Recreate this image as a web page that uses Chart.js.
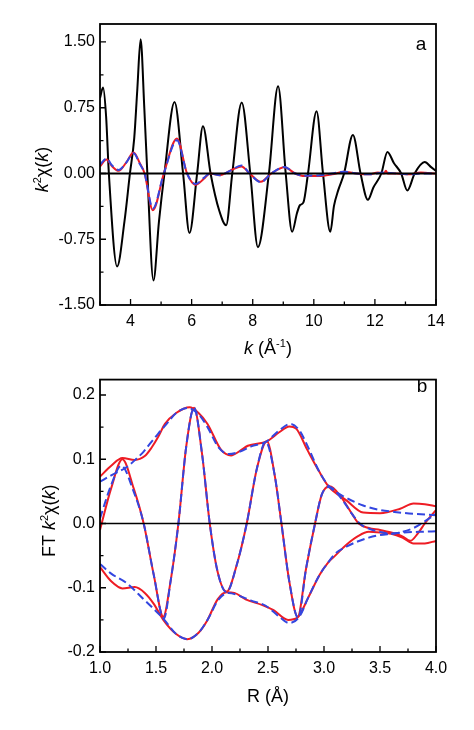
<!DOCTYPE html>
<html>
<head>
<meta charset="utf-8">
<script src="https://cdn.jsdelivr.net/npm/chart.js@4"></script>
<style>
  body { margin: 0; background: #fff; }
  canvas { position: absolute; left: 0; }
</style>
</head>
<body>
<canvas id="chartA" width="474" height="365" style="top:0;width:474px;height:365px"></canvas>
<canvas id="chartB" width="474" height="365" style="top:365px;width:474px;height:365px"></canvas>
<script>
// panel a: k^2 chi(k)
const kBlack = [3.0, 3.1, 3.2, 3.29, 3.56, 3.8, 3.98, 4.12, 4.22, 4.33, 4.45, 4.55, 4.75, 4.93, 5.11, 5.44, 5.72, 5.93, 6.18, 6.37, 6.62, 6.9, 7.13, 7.33, 7.64, 7.92, 8.17, 8.53, 8.83, 9.08, 9.29, 9.45, 9.55, 9.66, 9.81, 10.09, 10.3, 10.54, 10.66, 10.8, 10.99, 11.28, 11.53, 11.77, 11.95, 12.21, 12.41, 12.62, 12.86, 13.06, 13.3, 13.63, 13.85, 14.0];
const chiBlack = [0.86, 0.98, 0.65, 0.0, -1.06, -0.55, 0.0, 0.40, 0.95, 1.53, 0.75, 0.0, -1.22, -0.55, 0.0, 0.815, 0.0, -0.68, 0.0, 0.54, 0.0, -0.42, -0.59, 0.0, 0.81, 0.0, -0.84, 0.0, 0.995, 0.0, -0.665, -0.45, -0.36, -0.33, 0.0, 0.71, 0.0, -0.665, -0.37, -0.19, 0.0, 0.44, 0.0, -0.30, -0.16, 0.0, 0.245, 0.12, 0.0, -0.195, 0.0, 0.13, 0.07, 0.03];

const kRed = [3.0, 3.21, 3.4, 3.61, 3.85, 4.1, 4.3, 4.46, 4.73, 5.09, 5.52, 5.85, 6.13, 6.4, 6.6, 6.93, 7.25, 7.63, 7.9, 8.26, 8.61, 9.04, 9.39, 9.7, 10.2, 10.6, 11.0, 11.4, 11.8, 12.1, 12.3, 12.36, 12.42, 12.7, 13.1, 13.5, 14.0];
const chiRed = [0.08, 0.16, 0.08, 0.03, 0.12, 0.24, 0.12, 0.0, -0.42, 0.0, 0.40, 0.0, -0.13, -0.06, 0.0, -0.02, 0.03, 0.08, 0.0, -0.095, 0.0, 0.07, 0.0, -0.03, -0.03, -0.01, 0.02, 0.0, -0.01, 0.01, 0.0, 0.03, 0.0, 0.0, -0.01, 0.01, 0.0];

const kBlue = [3.0, 3.21, 3.4, 3.61, 3.85, 4.1, 4.3, 4.46, 4.73, 5.09, 5.52, 5.85, 6.13, 6.4, 6.6, 6.93, 7.25, 7.63, 7.9, 8.26, 8.61, 9.04, 9.39, 9.7, 10.2, 10.6, 11.0, 11.4, 11.8, 12.3, 12.7, 13.1, 13.5, 14.0];
const chiBlue = [0.10, 0.17, 0.09, 0.04, 0.12, 0.23, 0.11, 0.0, -0.40, 0.0, 0.38, 0.0, -0.12, -0.05, 0.0, -0.02, 0.03, 0.09, 0.0, -0.10, 0.0, 0.075, 0.0, -0.025, -0.02, 0.0, 0.02, 0.0, -0.01, 0.01, 0.0, -0.01, 0.0, 0.0];

// panel b: FT k^2 chi(k)
const rRedMag = [1.0, 1.1, 1.2, 1.31, 1.4, 1.46, 1.52, 1.58, 1.68, 1.8, 1.88, 1.96, 2.08, 2.17, 2.25, 2.32, 2.49, 2.6, 2.69, 2.75, 2.85, 2.96, 3.04, 3.2, 3.35, 3.5, 3.68, 3.8, 3.9, 4.0];
const ftRedMag = [0.073, 0.09, 0.102, 0.099, 0.105, 0.118, 0.135, 0.155, 0.172, 0.181, 0.172, 0.155, 0.115, 0.106, 0.113, 0.121, 0.128, 0.142, 0.151, 0.148, 0.115, 0.08, 0.058, 0.036, 0.017, 0.016, 0.023, 0.031, 0.03, 0.027];

const rRedNeg = [1.0, 1.1, 1.2, 1.31, 1.4, 1.48, 1.565, 1.68, 1.78, 1.88, 1.96, 2.05, 2.13, 2.2, 2.3, 2.45, 2.55, 2.68, 2.76, 2.86, 2.96, 3.04, 3.1, 3.2, 3.3, 3.4, 3.5, 3.6, 3.7, 3.8, 3.9, 4.0];
const ftRedNeg = [-0.068, -0.09, -0.101, -0.099, -0.108, -0.125, -0.15, -0.172, -0.18, -0.17, -0.15, -0.118, -0.107, -0.108, -0.118, -0.127, -0.135, -0.15, -0.147, -0.115, -0.08, -0.06, -0.05, -0.033, -0.02, -0.013, -0.014, -0.016, -0.022, -0.031, -0.031, -0.027];

const rRedRe = [1.0, 1.1, 1.2, 1.3, 1.39, 1.48, 1.565, 1.63, 1.7, 1.77, 1.84, 1.91, 1.98, 2.05, 2.13, 2.22, 2.31, 2.4, 2.49, 2.56, 2.62, 2.69, 2.765, 2.84, 2.92, 2.98, 3.05, 3.15, 3.25, 3.31, 3.4, 3.5, 3.6, 3.7, 3.77, 3.84, 3.9, 4.0];
const ftRedRe = [-0.01, 0.055, 0.1, 0.055, 0.0, -0.08, -0.145, -0.09, 0.0, 0.12, 0.18, 0.11, 0.0, -0.075, -0.106, -0.065, 0.0, 0.085, 0.128, 0.075, 0.0, -0.09, -0.145, -0.07, 0.0, 0.045, 0.058, 0.042, 0.015, 0.0, -0.007, -0.01, -0.014, -0.02, -0.027, -0.015, 0.0, 0.021];

const rBlueMag = [1.0, 1.1, 1.24, 1.32, 1.39, 1.45, 1.52, 1.595, 1.68, 1.78, 1.88, 1.96, 2.06, 2.15, 2.25, 2.35, 2.48, 2.6, 2.7, 2.78, 2.86, 2.96, 3.05, 3.2, 3.35, 3.5, 3.63, 3.8, 4.0];
const ftBlueMag = [0.065, 0.075, 0.088, 0.1, 0.112, 0.125, 0.14, 0.155, 0.172, 0.18, 0.17, 0.15, 0.118, 0.108, 0.112, 0.12, 0.127, 0.145, 0.155, 0.145, 0.118, 0.08, 0.057, 0.04, 0.028, 0.021, 0.018, 0.015, 0.013];

const rBlueNeg = [1.0, 1.1, 1.24, 1.39, 1.48, 1.565, 1.68, 1.78, 1.88, 1.96, 2.06, 2.15, 2.25, 2.35, 2.48, 2.6, 2.69, 2.78, 2.86, 2.96, 3.04, 3.1, 3.2, 3.3, 3.4, 3.5, 3.6, 3.7, 3.85, 4.0];
const ftBlueNeg = [-0.063, -0.078, -0.093, -0.118, -0.133, -0.148, -0.172, -0.18, -0.17, -0.15, -0.118, -0.108, -0.113, -0.12, -0.128, -0.145, -0.155, -0.145, -0.115, -0.08, -0.06, -0.047, -0.036, -0.028, -0.022, -0.018, -0.016, -0.014, -0.013, -0.012];

const rBlueRe = [1.0, 1.1, 1.19, 1.3, 1.39, 1.48, 1.57, 1.63, 1.7, 1.77, 1.84, 1.91, 1.98, 2.05, 2.13, 2.22, 2.31, 2.4, 2.48, 2.56, 2.62, 2.69, 2.77, 2.84, 2.92, 2.98, 3.05, 3.15, 3.25, 3.32, 3.4, 3.5, 3.6, 3.7, 3.8, 3.87, 4.0];
const ftBlueRe = [0.008, 0.06, 0.09, 0.05, 0.0, -0.08, -0.148, -0.09, 0.0, 0.12, 0.18, 0.11, 0.0, -0.075, -0.107, -0.065, 0.0, 0.085, 0.127, 0.075, 0.0, -0.09, -0.147, -0.07, 0.0, 0.045, 0.057, 0.04, 0.015, 0.0, -0.008, -0.013, -0.016, -0.013, -0.007, 0.0, 0.015];

const kTicks = [4, 6, 8, 10, 12, 14];
const chiTicks = [-1.5, -0.75, 0, 0.75, 1.5];
const rTicks = [1.0, 1.5, 2.0, 2.5, 3.0, 3.5, 4.0];
const ftTicks = [-0.2, -0.1, 0.0, 0.1, 0.2];

const RED = "#ee1c24";
const BLUE = "#3346e0";
const FONT = "'Liberation Sans', Arial, sans-serif";

function pts(xs, ys) {
  return xs.map((x, i) => ({ x: x, y: ys[i] }));
}

function line(data, color, width, dash, order) {
  return {
    data: data,
    borderColor: color,
    borderWidth: width,
    borderDash: dash,
    pointRadius: 0,
    fill: false,
    cubicInterpolationMode: "monotone",
    order: order
  };
}

// text with italic / superscript pieces
function rich(ctx, parts, x, y, size, rot) {
  ctx.save();
  ctx.translate(x, y);
  ctx.rotate(rot);
  ctx.fillStyle = "#000";
  ctx.textBaseline = "alphabetic";
  ctx.textAlign = "left";
  const fontOf = p => (p.i ? "italic " : "") + (p.s ? Math.round(size * 0.62) : size) + "px " + FONT;
  let total = 0;
  parts.forEach(p => { ctx.font = fontOf(p); total += ctx.measureText(p.t).width; });
  let cx = -total / 2;
  const base = size * 0.36;
  parts.forEach(p => {
    ctx.font = fontOf(p);
    ctx.fillText(p.t, cx, base - (p.s ? size * 0.42 : 0));
    cx += ctx.measureText(p.t).width;
  });
  ctx.restore();
}

const framePlugin = {
  id: "frame",
  afterDatasetsDraw(chart, args, o) {
    const { ctx, chartArea: a, scales } = chart;
    const xs = scales.x, ys = scales.y;
    ctx.save();
    ctx.strokeStyle = "#000";
    // zero line
    ctx.lineWidth = o.zeroWidth;
    const y0 = ys.getPixelForValue(0);
    ctx.beginPath();
    ctx.moveTo(a.left, y0);
    ctx.lineTo(a.right, y0);
    ctx.stroke();
    // box
    ctx.lineWidth = 1.8;
    ctx.strokeRect(a.left, a.top, a.right - a.left, a.bottom - a.top);
    // inward ticks, major + minor
    ctx.lineWidth = 1.3;
    const ticksOf = (t, min, max) => {
      const step = (t[1] - t[0]) / 2;
      const out = [];
      let v = t[0] - step * Math.ceil((t[0] - min) / step - 1e-6);
      for (; v <= max + 1e-9; v += step) {
        const major = t.some(m => Math.abs(m - v) < 1e-6);
        out.push({ v: v, major: major });
      }
      return out;
    };
    ctx.beginPath();
    ticksOf(o.xTicks, xs.min, xs.max).forEach(t => {
      const px = xs.getPixelForValue(t.v);
      ctx.moveTo(px, a.bottom);
      ctx.lineTo(px, a.bottom - (t.major ? 6 : 3.5));
    });
    ticksOf(o.yTicks, ys.min, ys.max).forEach(t => {
      const py = ys.getPixelForValue(t.v);
      ctx.moveTo(a.left, py);
      ctx.lineTo(a.left + (t.major ? 6 : 3.5), py);
    });
    ctx.stroke();
    ctx.restore();
    // titles
    rich(ctx, o.xTitle, (a.left + a.right) / 2, o.xTitleY, 18, 0);
    rich(ctx, o.yTitle, o.yTitleX, (a.top + a.bottom) / 2 + o.yTitleShift, 18, -Math.PI / 2);
    ctx.save();
    ctx.font = "19px " + FONT;
    ctx.fillStyle = "#000";
    ctx.textAlign = "center";
    ctx.textBaseline = "middle";
    ctx.fillText(o.letter, o.letterX, o.letterY);
    ctx.restore();
  }
};

function makeChart(id, datasets, sc) {
  return new Chart(document.getElementById(id).getContext("2d"), {
    type: "line",
    data: { datasets: datasets },
    plugins: [framePlugin],
    options: {
      responsive: false,
      animation: false,
      devicePixelRatio: 1,
      layout: { padding: { top: sc.padTop, right: 38, left: 0, bottom: 0 } },
      plugins: {
        legend: { display: false },
        tooltip: { enabled: false },
        frame: sc.frame
      },
      scales: {
        x: {
          type: "linear",
          min: sc.xMin,
          max: sc.xMax,
          grid: { display: false, drawTicks: false },
          border: { display: false },
          afterBuildTicks: s => { s.ticks = sc.xTicks.map(v => ({ value: v })); },
          afterFit: s => { s.height = sc.xHeight; },
          ticks: {
            padding: 7,
            color: "#000",
            font: { family: FONT, size: 16 },
            maxRotation: 0,
            callback: sc.xFmt
          }
        },
        y: {
          type: "linear",
          min: sc.yMin,
          max: sc.yMax,
          grid: { display: false, drawTicks: false },
          border: { display: false },
          afterBuildTicks: s => { s.ticks = sc.yTicks.map(v => ({ value: v })); },
          afterFit: s => { s.width = 100; },
          ticks: {
            padding: 5,
            color: "#000",
            font: { family: FONT, size: 16 },
            callback: sc.yFmt
          }
        }
      }
    }
  });
}

makeChart("chartA", [
  line(pts(kBlack, chiBlack), "#000", 2, [], 3),
  line(pts(kRed, chiRed), RED, 2, [], 2),
  line(pts(kBlue, chiBlue), BLUE, 2, [8, 4], 1)
], {
  padTop: 24, xHeight: 60,
  xMin: 3, xMax: 14, yMin: -1.5, yMax: 1.705,
  xTicks: kTicks, yTicks: chiTicks,
  xFmt: v => v.toFixed(0), yFmt: v => v.toFixed(2),
  frame: {
    zeroWidth: 2, xTicks: kTicks, yTicks: chiTicks,
    xTitle: [{ t: "k", i: true }, { t: " (Å" }, { t: "-1", s: true }, { t: ")" }],
    xTitleY: 348,
    yTitle: [{ t: "k", i: true }, { t: "2", s: true }, { t: "χ(" }, { t: "k", i: true }, { t: ")" }],
    yTitleX: 42, yTitleShift: 5,
    letter: "a", letterX: 421, letterY: 45
  }
});

makeChart("chartB", [
  line(pts(rRedMag, ftRedMag), RED, 2, [], 6),
  line(pts(rRedNeg, ftRedNeg), RED, 2, [], 5),
  line(pts(rRedRe, ftRedRe), RED, 2, [], 4),
  line(pts(rBlueMag, ftBlueMag), BLUE, 2, [8, 4], 3),
  line(pts(rBlueNeg, ftBlueNeg), BLUE, 2, [8, 4], 2),
  line(pts(rBlueRe, ftBlueRe), BLUE, 2, [8, 4], 1)
], {
  padTop: 2, xHeight: 78,
  xMin: 1, xMax: 4, yMin: -0.2, yMax: 0.224,
  xTicks: rTicks, yTicks: ftTicks,
  xFmt: v => v.toFixed(1), yFmt: v => v.toFixed(1),
  frame: {
    zeroWidth: 1.5, xTicks: rTicks, yTicks: ftTicks,
    xTitle: [{ t: "R (Å)" }],
    xTitleY: 331,
    yTitle: [{ t: "FT " }, { t: "k", i: true }, { t: "2", s: true }, { t: "χ(" }, { t: "k", i: true }, { t: ")" }],
    yTitleX: 49, yTitleShift: 5,
    letter: "b", letterX: 422, letterY: 22
  }
});
</script>
</body>
</html>
